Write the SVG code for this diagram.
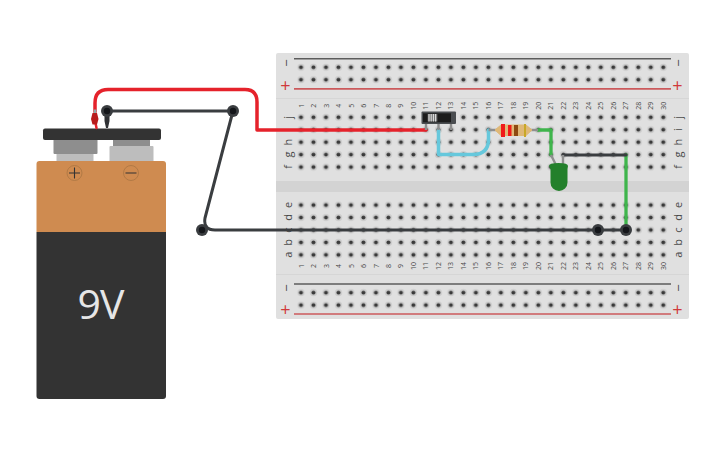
<svg xmlns="http://www.w3.org/2000/svg" width="725" height="453" viewBox="0 0 725 453">
<style>
text{font-family:"Open Sans","Liberation Sans",sans-serif;fill:#4a4a4a}
.n{font-size:7px;text-anchor:middle;dominant-baseline:central}
.l{font-size:11px;text-anchor:middle;dominant-baseline:central}
.m{font-size:13px;text-anchor:middle;dominant-baseline:central}
.p{font-size:18px;text-anchor:middle;dominant-baseline:central;fill:#d0393b}
.w{fill:none;stroke-linecap:round;stroke-linejoin:round;stroke-width:3.300}
.k{stroke:#3a3d40;stroke-width:3}.r{stroke:#e5222b;stroke-width:3.500}.g{stroke:#3fb54c}.b{stroke:#66c8dc;stroke-width:3.500}
.lead{fill:none;stroke:#8f8f8f;stroke-width:2.400}
</style>
<defs>
<pattern id="h" width="12.493" height="12.450" patternUnits="userSpaceOnUse" x="294.750" y="61.050">
<circle cx="6.250" cy="6.250" r="3.600" fill="#cbcbcb"/><circle cx="6.250" cy="6.250" r="2" fill="#3a3a3a"/>
</pattern>
<pattern id="h2" width="12.493" height="12.450" patternUnits="userSpaceOnUse" x="294.750" y="111.050">
<circle cx="6.250" cy="6.250" r="3.600" fill="#cbcbcb"/><circle cx="6.250" cy="6.250" r="2" fill="#3a3a3a"/>
</pattern>
<pattern id="h3" width="12.493" height="12.450" patternUnits="userSpaceOnUse" x="294.750" y="198.850">
<circle cx="6.250" cy="6.250" r="3.600" fill="#cbcbcb"/><circle cx="6.250" cy="6.250" r="2" fill="#3a3a3a"/>
</pattern>
<pattern id="h4" width="12.493" height="12.450" patternUnits="userSpaceOnUse" x="294.750" y="286.450">
<circle cx="6.250" cy="6.250" r="3.600" fill="#cbcbcb"/><circle cx="6.250" cy="6.250" r="2" fill="#3a3a3a"/>
</pattern>
<g id="end"><circle r="6" fill="#3a3d40"/><circle r="3.200" fill="#14161a"/></g>
</defs>

<g id="breadboard">
<rect x="276" y="53" width="413" height="266" rx="2" fill="#e0e0e0"/>
<rect x="276" y="98" width="413" height="1" fill="#d6d6d6"/>
<rect x="276" y="181" width="413" height="11" fill="#d3d3d3"/>
<rect x="276" y="274" width="413" height="1" fill="#d6d6d6"/>
<rect x="294.750" y="61.050" width="374.800" height="24.900" fill="url(#h)"/>
<rect x="294.750" y="111.050" width="374.800" height="62.250" fill="url(#h2)"/>
<rect x="294.750" y="198.850" width="374.800" height="62.250" fill="url(#h3)"/>
<rect x="294.750" y="286.450" width="374.800" height="24.900" fill="url(#h4)"/>
<path d="M294 58.800H671M294 284H671" stroke="#5c5c5c" stroke-width="1.500"/>
<path d="M294 88.800H671M294 314H671" stroke="#cb5a5c" stroke-width="1.700"/>
<g id="rail-signs">
<text class="m" transform="translate(285.500 63) rotate(-90)">−</text><text class="p" x="285.500" y="85">+</text>
<text class="m" transform="translate(677.500 63) rotate(-90)">−</text><text class="p" x="677.500" y="85">+</text>
<text class="m" transform="translate(285.500 288) rotate(-90)">−</text><text class="p" x="285.500" y="309">+</text>
<text class="m" transform="translate(677.500 288) rotate(-90)">−</text><text class="p" x="677.500" y="309">+</text>
</g>
<g id="row-labels">
<text class="l" transform="translate(287 117.300) rotate(-90)">j</text><text class="l" transform="translate(287 129.700) rotate(-90)">i</text><text class="l" transform="translate(287 142.200) rotate(-90)">h</text><text class="l" transform="translate(287 154.600) rotate(-90)">g</text><text class="l" transform="translate(287 167) rotate(-90)">f</text>
<text class="l" transform="translate(287 205) rotate(-90)">e</text><text class="l" transform="translate(287 217.500) rotate(-90)">d</text><text class="l" transform="translate(287 230) rotate(-90)">c</text><text class="l" transform="translate(287 242.400) rotate(-90)">b</text><text class="l" transform="translate(287 254.800) rotate(-90)">a</text>
<text class="l" transform="translate(677 117.300) rotate(-90)">j</text><text class="l" transform="translate(677 129.700) rotate(-90)">i</text><text class="l" transform="translate(677 142.200) rotate(-90)">h</text><text class="l" transform="translate(677 154.600) rotate(-90)">g</text><text class="l" transform="translate(677 167) rotate(-90)">f</text>
<text class="l" transform="translate(677 205) rotate(-90)">e</text><text class="l" transform="translate(677 217.500) rotate(-90)">d</text><text class="l" transform="translate(677 230) rotate(-90)">c</text><text class="l" transform="translate(677 242.400) rotate(-90)">b</text><text class="l" transform="translate(677 254.800) rotate(-90)">a</text>
</g>
<g id="col-top">
<text class="n" transform="translate(301 105.700) rotate(-90)">1</text><text class="n" transform="translate(313.500 105.700) rotate(-90)">2</text><text class="n" transform="translate(326 105.700) rotate(-90)">3</text><text class="n" transform="translate(338.500 105.700) rotate(-90)">4</text><text class="n" transform="translate(351 105.700) rotate(-90)">5</text><text class="n" transform="translate(363.500 105.700) rotate(-90)">6</text><text class="n" transform="translate(376 105.700) rotate(-90)">7</text><text class="n" transform="translate(388.400 105.700) rotate(-90)">8</text><text class="n" transform="translate(400.900 105.700) rotate(-90)">9</text><text class="n" transform="translate(413.400 105.700) rotate(-90)">10</text>
<text class="n" transform="translate(425.900 105.700) rotate(-90)">11</text><text class="n" transform="translate(438.400 105.700) rotate(-90)">12</text><text class="n" transform="translate(450.900 105.700) rotate(-90)">13</text><text class="n" transform="translate(463.400 105.700) rotate(-90)">14</text><text class="n" transform="translate(475.900 105.700) rotate(-90)">15</text><text class="n" transform="translate(488.400 105.700) rotate(-90)">16</text><text class="n" transform="translate(500.900 105.700) rotate(-90)">17</text><text class="n" transform="translate(513.400 105.700) rotate(-90)">18</text><text class="n" transform="translate(525.900 105.700) rotate(-90)">19</text><text class="n" transform="translate(538.400 105.700) rotate(-90)">20</text>
<text class="n" transform="translate(550.800 105.700) rotate(-90)">21</text><text class="n" transform="translate(563.300 105.700) rotate(-90)">22</text><text class="n" transform="translate(575.800 105.700) rotate(-90)">23</text><text class="n" transform="translate(588.300 105.700) rotate(-90)">24</text><text class="n" transform="translate(600.800 105.700) rotate(-90)">25</text><text class="n" transform="translate(613.300 105.700) rotate(-90)">26</text><text class="n" transform="translate(625.800 105.700) rotate(-90)">27</text><text class="n" transform="translate(638.300 105.700) rotate(-90)">28</text><text class="n" transform="translate(650.800 105.700) rotate(-90)">29</text><text class="n" transform="translate(663.300 105.700) rotate(-90)">30</text>
</g>
<g id="col-bottom">
<text class="n" transform="translate(301 266) rotate(-90)">1</text><text class="n" transform="translate(313.500 266) rotate(-90)">2</text><text class="n" transform="translate(326 266) rotate(-90)">3</text><text class="n" transform="translate(338.500 266) rotate(-90)">4</text><text class="n" transform="translate(351 266) rotate(-90)">5</text><text class="n" transform="translate(363.500 266) rotate(-90)">6</text><text class="n" transform="translate(376 266) rotate(-90)">7</text><text class="n" transform="translate(388.400 266) rotate(-90)">8</text><text class="n" transform="translate(400.900 266) rotate(-90)">9</text><text class="n" transform="translate(413.400 266) rotate(-90)">10</text>
<text class="n" transform="translate(425.900 266) rotate(-90)">11</text><text class="n" transform="translate(438.400 266) rotate(-90)">12</text><text class="n" transform="translate(450.900 266) rotate(-90)">13</text><text class="n" transform="translate(463.400 266) rotate(-90)">14</text><text class="n" transform="translate(475.900 266) rotate(-90)">15</text><text class="n" transform="translate(488.400 266) rotate(-90)">16</text><text class="n" transform="translate(500.900 266) rotate(-90)">17</text><text class="n" transform="translate(513.400 266) rotate(-90)">18</text><text class="n" transform="translate(525.900 266) rotate(-90)">19</text><text class="n" transform="translate(538.400 266) rotate(-90)">20</text>
<text class="n" transform="translate(550.800 266) rotate(-90)">21</text><text class="n" transform="translate(563.300 266) rotate(-90)">22</text><text class="n" transform="translate(575.800 266) rotate(-90)">23</text><text class="n" transform="translate(588.300 266) rotate(-90)">24</text><text class="n" transform="translate(600.800 266) rotate(-90)">25</text><text class="n" transform="translate(613.300 266) rotate(-90)">26</text><text class="n" transform="translate(625.800 266) rotate(-90)">27</text><text class="n" transform="translate(638.300 266) rotate(-90)">28</text><text class="n" transform="translate(650.800 266) rotate(-90)">29</text><text class="n" transform="translate(663.300 266) rotate(-90)">30</text>
</g>
</g>

<g id="battery">
<rect x="56.500" y="150" width="37" height="13" fill="#bdbdbd"/>
<rect x="53.500" y="138" width="44" height="16" rx="1" fill="#8e8e8e"/>
<rect x="113" y="138" width="37" height="10" fill="#8e8e8e"/>
<rect x="109.500" y="146" width="44" height="17" rx="1" fill="#bdbdbd"/>
<rect x="43" y="128.500" width="118" height="11.500" rx="2" fill="#333"/>
<path d="M36.500 232V164a3 3 0 0 1 3-3H163a3 3 0 0 1 3 3V232Z" fill="#cf8b50"/>
<path d="M36.500 232H166V396a3 3 0 0 1-3 3H39.500a3 3 0 0 1-3-3Z" fill="#333"/>
<circle cx="74.500" cy="173" r="7.500" fill="none" stroke="#a97542" stroke-width=".8"/>
<circle cx="131" cy="173" r="7.500" fill="none" stroke="#a97542" stroke-width=".8"/>
<path d="M69 173H80M74.500 167.500V178.500M125.500 173H136.500" stroke="#333" stroke-width="1.100" fill="none"/>
<text x="100.500" y="303" text-anchor="middle" dominant-baseline="central" style="font-size:41px;font-weight:500;letter-spacing:-1px;fill:#e6e6e6">9V</text>
</g>

<g id="connectors">
<path class="w r" d="M95 112V103Q95 89.500 108 89.500H245Q257 89.500 257 102V130H426"/>
<path class="w r" d="M95.500 123L96.500 128" style="stroke-width:2.500"/>
<path class="w k" d="M107 111H233L205 218Q203 230 215 230H626"/>
<path class="w k" d="M202 230L206 226"/>
<path class="w g" d="M626 155V230"/>
<path class="w k" d="M563 155H626"/>
<path class="w g" d="M538 130H551V155"/>
<path class="w b" d="M438.500 130V154.500H473Q488.500 154.500 488.500 139V130"/>
<rect x="93.700" y="109.500" width="2.600" height="3.500" fill="#8fa9a9"/>
<path fill="#b81c1c" d="M92.500 113h4.500l1.500 6-1.500 5.500h-4.500l-1.500-5.500Z"/>
<path fill="#2f3134" d="M104.500 114h5l0 7-1.500 7h-2l-1.500-7Z"/>
<use href="#end" x="107" y="111"/>
<use href="#end" x="233" y="111"/>
<use href="#end" x="202" y="230"/>
<use href="#end" x="598" y="230"/>
<use href="#end" x="626" y="230"/>
</g>

<g id="switch">
<path class="lead" d="M426 124V130M438.500 124V130M451 124V130"/>
<rect x="421.500" y="111.500" width="34.500" height="12.500" rx="1" fill="#4a4d50"/>
<rect x="423" y="113.300" width="28" height="9" fill="#1c1c1c"/>
<rect x="427.700" y="114" width="9.600" height="7.500" fill="#777"/>
<path d="M429 114V121.500M431.200 114V121.500M433.400 114V121.500M435.600 114V121.500" stroke="#e4e4e4" stroke-width="1"/>
</g>

<g id="resistor">
<path class="lead" d="M488.500 130H538"/>
<path d="M495 130L501 125H526L532 130L526 135.500H501Z" fill="#dfb877" stroke="#dfb877" stroke-linejoin="round"/>
<rect x="501" y="124" width="4" height="13" fill="#f01a1a"/>
<rect x="508" y="125" width="3.500" height="11" fill="#f01a1a"/>
<rect x="514" y="125" width="4" height="11" fill="#8e4a12"/>
<rect x="524" y="124" width="2" height="13" fill="#c8a827"/>
</g>

<g id="led">
<path class="lead" d="M551 155L556 165M563 155V165"/>
<path d="M549 166Q549 163 558.500 163Q568 163 568 166L567.500 169V182.500A8.500 8.500 0 0 1 550.500 182.500V169Z" fill="#23802b"/>
</g>
</svg>
